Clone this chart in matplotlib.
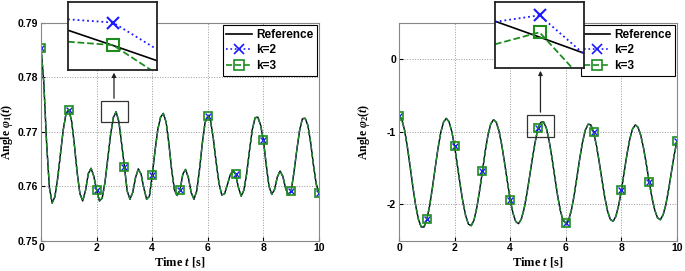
import matplotlib
matplotlib.use("Agg")
import matplotlib.pyplot as plt
from matplotlib.lines import Line2D
from matplotlib.patches import Rectangle, FancyArrowPatch
from matplotlib.ticker import FormatStrFormatter

plt.rcParams['font.family'] = ['Liberation Sans', 'DejaVu Sans']
plt.rcParams['font.weight'] = 'bold'
plt.rcParams['axes.unicode_minus'] = False
plt.rcParams['mathtext.fontset'] = 'custom'
plt.rcParams['mathtext.rm'] = 'Liberation Serif:bold'
plt.rcParams['mathtext.it'] = 'Liberation Serif:italic:bold'
plt.rcParams['mathtext.bf'] = 'Liberation Serif:bold'

# time axis, 0.1 s steps
t = [i / 10 for i in range(101)]

# angle phi_1 (reference and both k overlap)
phi1_ref = [
    0.7855, 0.7790, 0.7680, 0.7598, 0.7569, 0.7581, 0.7615, 0.7660, 0.7704, 0.7734,
    0.7741, 0.7720, 0.7676, 0.7625, 0.7586, 0.7573, 0.7592, 0.7623, 0.7633, 0.7618,
    0.7593, 0.7573, 0.7578, 0.7607, 0.7650, 0.7694, 0.7726, 0.7737, 0.7719, 0.7678,
    0.7636, 0.7591, 0.7576, 0.7589, 0.7616, 0.7632, 0.7622, 0.7596, 0.7576, 0.7582,
    0.7620, 0.7665, 0.7704, 0.7727, 0.7734, 0.7718, 0.7678, 0.7630, 0.7593, 0.7583,
    0.7593, 0.7622, 0.7631, 0.7616, 0.7589, 0.7576, 0.7591, 0.7630, 0.7678, 0.7717,
    0.7729, 0.7720, 0.7687, 0.7644, 0.7606, 0.7584, 0.7586, 0.7602, 0.7620, 0.7629,
    0.7622, 0.7598, 0.7582, 0.7593, 0.7624, 0.7666, 0.7704, 0.7726, 0.7727, 0.7712,
    0.7685, 0.7640, 0.7600, 0.7585, 0.7594, 0.7617, 0.7628, 0.7618, 0.7596, 0.7584,
    0.7592, 0.7626, 0.7666, 0.7702, 0.7724, 0.7725, 0.7712, 0.7680, 0.7639, 0.7604,
    0.7587,
]
phi1_k2 = phi1_ref
phi1_k3 = phi1_ref

# angle phi_2
phi2_ref = [
    -0.777, -0.830, -0.978, -1.206, -1.480, -1.763, -2.017, -2.209, -2.311, -2.312,
    -2.208, -2.025, -1.776, -1.501, -1.234, -1.013, -0.867, -0.815, -0.861, -0.999,
    -1.200, -1.462, -1.728, -1.972, -2.161, -2.274, -2.294, -2.213, -2.043, -1.807,
    -1.545, -1.271, -1.045, -0.892, -0.832, -0.868, -0.993, -1.190, -1.433, -1.690,
    -1.935, -2.121, -2.237, -2.266, -2.203, -2.061, -1.853, -1.611, -1.361, -1.137,
    -0.945, -0.870, -0.862, -0.949, -1.121, -1.353, -1.613, -1.867, -2.078, -2.218,
    -2.260, -2.219, -2.083, -1.876, -1.628, -1.372, -1.146, -0.979, -0.895, -0.903,
    -1.008, -1.181, -1.410, -1.660, -1.898, -2.087, -2.205, -2.234, -2.167, -2.018,
    -1.806, -1.556, -1.311, -1.104, -0.961, -0.904, -0.938, -1.052, -1.231, -1.452,
    -1.690, -1.906, -2.079, -2.185, -2.211, -2.146, -2.002, -1.794, -1.554, -1.317,
    -1.125,
]
phi2_k2 = phi2_ref
phi2_k3 = phi2_ref

# zoomed windows shown in the insets
zoom1_t = [2.16, 2.65, 3.13]
zoom1_ref = [0.77402, 0.77317, 0.77232]
zoom1_k2 = [0.77463, 0.77445, 0.77295]
zoom1_k3 = [0.77338, 0.77319, 0.77158]

zoom2_t = [4.60, 5.09, 5.58]
zoom2_ref = [-0.855, -0.928, -1.002]
zoom2_k2 = [-0.858, -0.828, -1.006]
zoom2_k3 = [-0.961, -0.906, -1.129]

fig = plt.figure(figsize=(6.85, 2.71), dpi=100)

panels = [
    dict(pos=[0.0599, 0.112, 0.4058, 0.803], ref=phi1_ref, k2=phi1_k2, k3=phi1_k3,
         ylim=(0.75, 0.79), yticks=[0.75, 0.76, 0.77, 0.78, 0.79], fmt='%.2f',
         ylabel=r'Angle $\varphi_1(t)$', labelx=-0.092,
         inset=[0.0993, 0.7417, 0.130, 0.251], zt=zoom1_t, zref=zoom1_ref,
         zk2=zoom1_k2, zk3=zoom1_k3, zylim=(0.7718, 0.7756),
         rect=(0.216, 0.545, 0.097, 0.097), arrow=(0.1664, 0.627, 0.742)),
    dict(pos=[0.5825, 0.112, 0.4058, 0.803], ref=phi2_ref, k2=phi2_k2, k3=phi2_k3,
         ylim=(-2.5, 0.5), yticks=[-2, -1, 0], fmt='%d',
         ylabel=r'Angle $\varphi_2(t)$', labelx=-0.098,
         inset=[0.7226, 0.749, 0.130, 0.2435], zt=zoom2_t, zref=zoom2_ref,
         zk2=zoom2_k2, zk3=zoom2_k3, zylim=(-1.070, -0.767),
         rect=(0.460, 0.476, 0.098, 0.101), arrow=(0.789, 0.576, 0.749)),
]

blue = '#1a1aff'
green = '#1e8c1e'

for p in panels:
    ax = fig.add_axes(p['pos'])
    ax.plot(t, p['ref'], color='black', lw=1.0)
    ax.plot(t, p['k2'], color=blue, ls=':', lw=1.0, marker='x', ms=5,
            mew=1.0, markevery=10)
    ax.plot(t, p['k3'], color=green, ls='--', lw=1.0, marker='s', ms=6,
            mfc='none', mew=1.2, markevery=10)
    ax.set_xlim(0, 10)
    ax.set_ylim(*p['ylim'])
    ax.set_xticks([0, 2, 4, 6, 8, 10])
    ax.set_yticks(p['yticks'])
    ax.yaxis.set_major_formatter(FormatStrFormatter(p['fmt']))
    ax.tick_params(direction='in', length=3, labelsize=7.5, colors='black',
                   pad=2)
    for s in ax.spines.values():
        s.set_color('#888888')
        s.set_linewidth(0.8)
    ax.grid(True, ls=':', color='#999999', lw=0.7)
    ax.set_xlabel(r'Time $t$ [s]', fontsize=9, family='Liberation Serif',
                  weight='bold', labelpad=1)
    ax.set_ylabel(p['ylabel'], fontsize=8.5, family='Liberation Serif',
                  weight='bold')
    ax.yaxis.set_label_coords(p['labelx'], 0.5)

    handles = [
        Line2D([], [], color='black', lw=1.2),
        Line2D([], [], color=blue, ls=':', lw=1.2, marker='x', ms=7, mew=1.2),
        Line2D([], [], color=green, ls='--', lw=1.2, marker='s', ms=7,
               mfc='none', mew=1.2),
    ]
    leg = ax.legend(handles, ['Reference', 'k=2', 'k=3'], loc='upper right',
                    fontsize=8.5, fancybox=False, framealpha=1,
                    edgecolor='black', borderaxespad=0.2, handlelength=2.2,
                    handletextpad=0.3, borderpad=0.3, labelspacing=0.3)
    leg.get_frame().set_linewidth(0.8)

    rx, ry, rw, rh = p['rect']
    ax.add_patch(Rectangle((rx, ry), rw, rh, transform=ax.transAxes,
                           fill=False, edgecolor='#333333', lw=0.9, zorder=5))

    ax_in = fig.add_axes(p['inset'])
    ax_in.plot(p['zt'], p['zref'], color='black', lw=1.2)
    ax_in.plot(p['zt'], p['zk2'], color=blue, ls=':', lw=1.3, marker='x',
               ms=8, mew=1.5, markevery=[1])
    ax_in.plot(p['zt'], p['zk3'], color=green, ls='--', lw=1.3, marker='s',
               ms=8, mfc='none', mew=1.5, markevery=[1])
    ax_in.set_xlim(p['zt'][0], p['zt'][-1])
    ax_in.set_ylim(*p['zylim'])
    ax_in.set_xticks([])
    ax_in.set_yticks([])
    for s in ax_in.spines.values():
        s.set_color('#222222')
        s.set_linewidth(1.3)

    ax_x, y0, y1 = p['arrow']
    fig.add_artist(FancyArrowPatch(
        (ax_x, y0), (ax_x, y1), transform=fig.transFigure,
        arrowstyle='-|>', mutation_scale=6, color='#222222', lw=0.9))

fig.savefig('out.png', dpi=100)
